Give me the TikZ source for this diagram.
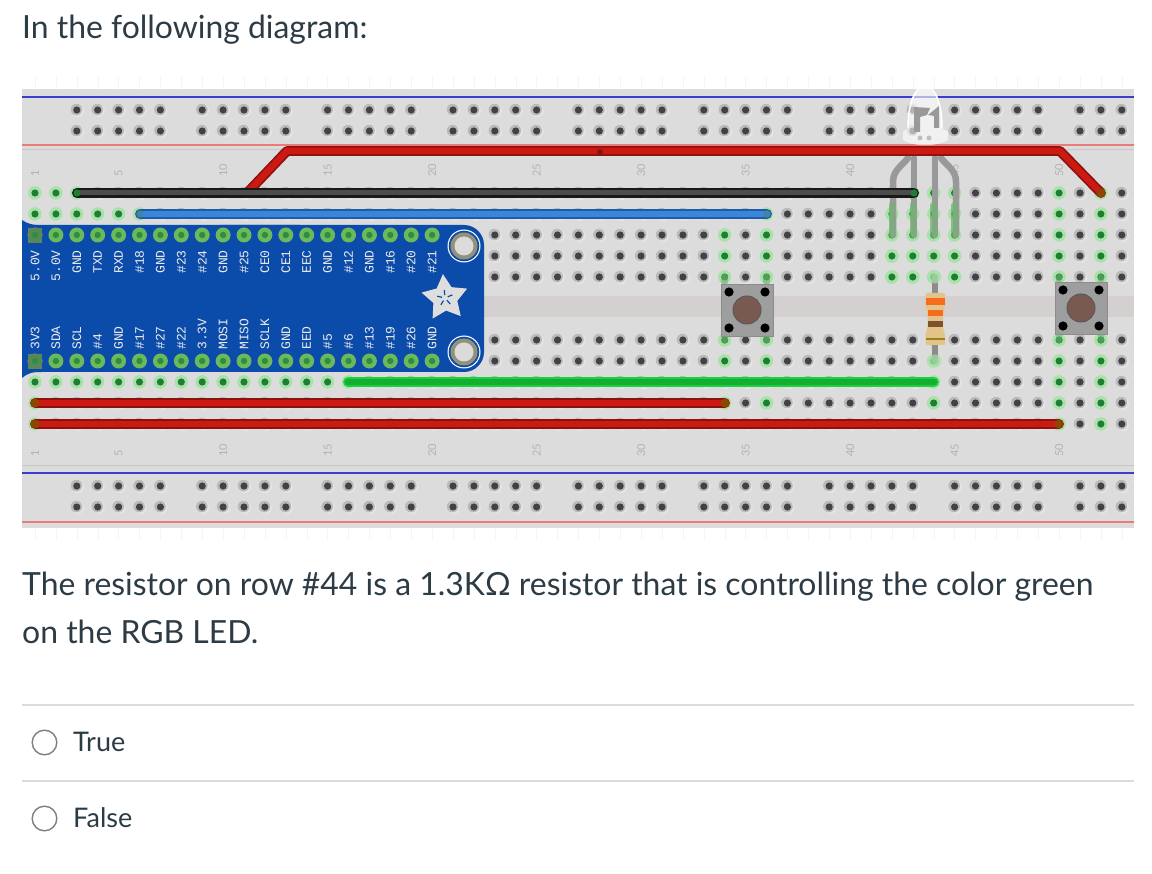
\documentclass[tikz,border=0pt]{standalone}
\usepackage{fontspec}
\setmainfont{Lato}
\newfontfamily\pinfont{Liberation Mono}
\usetikzlibrary{shapes.geometric}
\definecolor{inktext}{HTML}{2D3B45}
\definecolor{boardgrey}{HTML}{DCDCDC}
\definecolor{groovegrey}{HTML}{D5D0D0}
\definecolor{holedark}{HTML}{424246}
\definecolor{holegreen}{HTML}{1F7D36}
\definecolor{halogreen}{HTML}{A9E2A9}
\definecolor{pcbblue}{HTML}{0B4BAA}
\definecolor{pinring}{HTML}{6CB85C}
\definecolor{pincore}{HTML}{2B8F3F}
\definecolor{railblue}{HTML}{3D3DCB}
\definecolor{railred}{HTML}{EA7B7B}
\definecolor{legbrown}{HTML}{7A5A50}
\definecolor{wirered}{HTML}{CC1A12}
\definecolor{wirereddark}{HTML}{8C1210}
\definecolor{wireblue}{HTML}{3A86DC}
\definecolor{wirebluedark}{HTML}{1F5BA6}
\definecolor{wiregreen}{HTML}{14AE30}
\definecolor{wiregreenlight}{HTML}{1CD040}
\definecolor{bodytan}{HTML}{E2C488}
\definecolor{bandorange}{HTML}{F86A1C}
\tikzset{
    questiontext/.style={anchor=base west,inner sep=0,text=inktext,font=\fontsize{31.9}{38}\selectfont},
    answertext/.style={anchor=base west,inner sep=0,text=inktext,font=\fontsize{27}{32}\selectfont},
    radiobutton/.style={draw=black!50,line width=1.4pt,fill=white},
    rowrule/.style={draw=black!14,line width=2pt},
    pinlabel/.style={inner sep=0,rotate=90,text=white!92!black,font=\pinfont\fontsize{13}{13}\selectfont},
    boardnumber/.style={inner sep=0,rotate=90,anchor=west,text=black!30,font=\fontsize{11}{11}\selectfont},
    redwire/.style={draw=wirereddark,double=wirered,line width=1.7pt,double distance=6.5pt,line cap=round,line join=round},
    blackwire/.style={draw=black!90,double=black!70,line width=2.5pt,double distance=5pt,line cap=round},
    bluewire/.style={draw=wirebluedark,double=wireblue,line width=1.7pt,double distance=6.5pt,line cap=round},
    greenwire/.style={draw=wiregreenlight,double=wiregreen,line width=1.7pt,double distance=6.5pt,line cap=round},
    ledleg/.style={draw=black!40,line width=6.5pt,line cap=round},
    greenlead/.style={draw=green!45!black!55,line width=6.5pt,line cap=round},
    buttonbody/.style={fill=black!38,draw=black!45,line width=.5pt},
    buttoncap/.style={fill=legbrown,draw=black!65,line width=1pt}
}
% one hole of the breadboard, plain or connected
\newcommand{\greyhole}[2]{
    \fill[white!90!black] ({colx(#1)+.8},{#2+.8}) circle (6.3);
    \fill[black!27] ({colx(#1)-.4},{#2-.4}) circle (5.8);
    \fill[holedark] ({colx(#1)},{#2}) circle (3.6);
}
\newcommand{\greenhole}[2]{
    \fill[halogreen] ({colx(#1)},{#2}) circle (6.8);
    \fill[holegreen] ({colx(#1)},{#2}) circle (3.6);
}
\begin{document}
\begin{tikzpicture}[x=1pt,y=-1pt,declare function={colx(\c)=35+(\c-1)*20.9;}]
    \useasboundingbox (0,0) rectangle (1152,874);
    \fill[white] (0,0) rectangle (1152,874);

    \node[questiontext] (title) at (22,38.5) {In the following diagram:};
    \node[questiontext] (line1) at (22,595.5) {The resistor on row \#44 is a 1.3KΩ resistor that is controlling the color green};
    \node[questiontext] (line2) at (22,643) {on the RGB LED.};

    % answers
    \draw[rowrule] (22,705) -- (1134,705);
    \draw[rowrule] (22,781) -- (1134,781);
    \draw[radiobutton] (44.5,742.5) circle (12.3);
    \draw[radiobutton] (44.5,818.5) circle (12.3);
    \node[answertext] (yes) at (73,751) {True};
    \node[answertext] (no) at (73,827) {False};

    % breadboard
    \foreach \c in {1,...,53} {
        \draw[black!4] ({colx(\c)},76) -- ({colx(\c)},89);
        \draw[black!4] ({colx(\c)},528) -- ({colx(\c)},540);
    }
    \fill[boardgrey] (22,89) rectangle (1134,528);
    \fill[groovegrey] (22,296) rectangle (1134,317);
    \draw[railblue,line width=1.3pt] (22,97) -- (1134,97);
    \draw[railred,line width=1.3pt] (22,145) -- (1134,145);
    \draw[black!22,line width=1pt] (22,150) -- (1134,150);
    \draw[black!22,line width=1pt] (22,466) -- (1134,466);
    \draw[railblue,line width=1.3pt] (22,473) -- (1134,473);
    \draw[railred,line width=1.3pt] (22,522) -- (1134,522);

    \foreach \c in {3,...,7,9,10,11,12,13,15,16,17,18,19,21,22,23,24,25,27,28,29,30,31,33,34,35,36,37,39,40,41,42,43,45,46,47,48,49,51,52,53}
        \foreach \r in {110,131,486,507} {\greyhole{\c}{\r}}
    \foreach \c in {1,...,53}
        \foreach \r in {193,214,235,256,277,340,361,382,403,424} {\greyhole{\c}{\r}}

    % connected holes
    \foreach \c/\r in {1/193,2/193,3/193,43/193,44/193,45/193,50/193,52/193,
        36/214,42/214,43/214,44/214,45/214,50/214,52/214,
        34/235,36/235,42/235,43/235,44/235,45/235,50/235,52/235,
        34/256,36/256,42/256,43/256,44/256,45/256,50/256,52/256,
        34/277,36/277,42/277,43/277,44/277,45/277,50/277,52/277,
        34/340,36/340,44/340,50/340,52/340,
        34/361,36/361,44/361,50/361,52/361,
        44/382,50/382,52/382,
        1/403,34/403,36/403,44/403,50/403,52/403,
        1/424,50/424,52/424} {\greenhole{\c}{\r}}
    \foreach \c in {1,...,6} {\greenhole{\c}{214}}
    \foreach \c in {1,...,16} {\greenhole{\c}{382}}

    \foreach \n in {1,5,10,15,20,25,30,35,40,45,50} {
        \node[boardnumber] (top\n) at ({colx(\n)},177) {\n};
        \node[boardnumber] (bot\n) at ({colx(\n)},457) {\n};
    }

    % feather board
    \fill[pcbblue,rounded corners=20pt] (200,225) -- (484,225) -- (484,372) -- (200,372) -- cycle;
    \fill[pcbblue] (300,225) -- (42,225) .. controls (32,225) and (28,224) .. (22,220) -- (22,378) .. controls (28,373) and (32,372) .. (42,372) -- (300,372) -- cycle;
    \foreach \c in {1,...,20} {
        \fill[pinring] ({colx(\c)},235) circle (7.5);
        \fill[pincore] ({colx(\c)},235) circle (3.2);
        \fill[pinring] ({colx(\c)},361) circle (7.5);
        \fill[pincore] ({colx(\c)},361) circle (3.2);
    }
    \fill[black!40!green!30!gray] (28,228) rectangle (42,243);
    \fill[pincore] (35,235) circle (3.2);
    \fill[black!40!green!30!gray] (28,354) rectangle (42,369);
    \fill[pincore] (35,361) circle (3.2);
    \foreach \lab [count=\i] in {5.0V,5.0V,GND,TXD,RXD,\#18,GND,\#23,\#24,GND,\#25,CE0,CE1,EEC,GND,\#12,GND,\#16,\#20,\#21}
        \node[pinlabel,anchor=east] (up\i) at ({colx(\i)},250) {\lab};
    \foreach \lab [count=\i] in {3V3,SDA,SCL,\#4,GND,\#17,\#27,\#22,3.3V,MOSI,MISO,SCLK,GND,EED,\#5,\#6,\#13,\#19,\#26,GND}
        \node[pinlabel,anchor=west] (low\i) at ({colx(\i)},350) {\lab};
    \foreach \y in {246,352} {
        \fill[white] (464,\y) circle (16.5);
        \fill[pcbblue] (464,\y) circle (15.3);
        \fill[black!45!yellow!30!gray] (464,\y) circle (13.5);
        \fill[black!14] (464,\y) circle (9.5);
    }
    \node[star,star points=5,star point ratio=1.9,minimum size=48pt,inner sep=0,fill=black!13,rotate=5] (flower) at (445,298) {};
    \foreach \a in {95,167,239,311,23}
        \draw[pcbblue,line width=1.2pt] ({445+3*cos(\a)},{298-3*sin(\a)}) -- ({445+8*cos(\a)},{298-8*sin(\a)});

    % rgb led
    \draw[ledleg] (893,235) -- (893,182) .. controls (893,170) and (902,166) .. (908,158);
    \draw[ledleg] (914,235) -- (914,158);
    \draw[ledleg] (935,235) -- (935,158);
    \draw[ledleg] (956,235) -- (956,182) .. controls (956,170) and (947,166) .. (941,158);
    \foreach \c in {42,43,44,45} {
        \draw[greenlead,opacity=.75] ({colx(\c)},205) -- ({colx(\c)},235);
        \greenhole{\c}{256}
        \greenhole{\c}{277}
    }
    \fill[white,opacity=.6] (908,128) .. controls (908,72) and (942,72) .. (942,128) -- (948,132) -- (948,140) .. controls (935,147) and (915,147) .. (903,140) -- (903,132) -- cycle;
    \draw[white,line width=1.5pt] (908,128) .. controls (908,72) and (942,72) .. (942,128);
    \fill[black!40] (914,107) -- (930,108) -- (927,115) -- (920,117) -- (920,132) -- (914,132) -- cycle;
    \fill[black!40] (939,106) -- (939,128) -- (934,128) -- (934,116) -- (928,115) -- cycle;
    \fill[black!25] (920,138) circle (2.5);
    \fill[black!25] (929,138) circle (2.5);

    % wires
    \draw[redwire] (247,193) -- (287,151) -- (1060,151) -- (1101,193);
    \fill[wirereddark] (600,152) circle (3);
    \fill[orange!55!black] (1101,193) circle (4.5);
    \draw[blackwire] (77,193) -- (914,193);
    \draw[bluewire] (140,214) -- (767,214);
    \draw[greenwire] (348,382) -- (934,382);
    \draw[redwire] (35,403) -- (725,403);
    \draw[redwire] (35,424) -- (1059,424);
    \fill[holegreen] (77,193) circle (3.6);
    \fill[holegreen] (914,193) circle (3.6);
    \fill[cyan!60!black] (140,214) circle (3.6);
    \fill[cyan!60!black] (767,214) circle (3.6);
    \foreach \x/\y in {35/403,35/424,725/403,1059/424}
        \fill[orange!55!black] (\x,\y) circle (4.5);

    % buttons
    \foreach \x/\c/\y in {747/34/310,1081/50/308} {
        \draw[greenlead,opacity=.6] ({colx(\c)},277) -- ({colx(\c)},{\y-28});
        \draw[greenlead,opacity=.6] ({colx(\c+2)},277) -- ({colx(\c+2)},{\y-28});
        \draw[greenlead,opacity=.6] ({colx(\c)},340) -- ({colx(\c)},{\y+28});
        \draw[greenlead,opacity=.6] ({colx(\c+2)},340) -- ({colx(\c+2)},{\y+28});
        \fill[buttonbody] ({\x-26},{\y-26}) rectangle ({\x+26},{\y+26});
        \foreach \dx in {-18,18}
            \foreach \dy in {-18,18}
                \fill[black] ({\x+\dx},{\y+\dy}) circle (4.6);
        \fill[buttoncap] (\x,\y) circle (14);
    }

    % resistor
    \draw[ledleg,draw=black!45] (935,277) -- (935,361);
    \fill[halogreen,opacity=.7] (935,277) circle (6.5);
    \fill[halogreen,opacity=.7] (935,361) circle (6.5);
    \fill[bodytan,rounded corners=2pt] (925.5,293) -- (945,293) -- (945,306) -- (943,312) -- (943,328) -- (945,334) -- (945,345) -- (925.5,345) -- (925.5,334) -- (927.5,328) -- (927.5,312) -- (925.5,306) -- cycle;
    \fill[bandorange] (925.5,298) rectangle (945,305);
    \fill[bandorange] (927.5,310) rectangle (943,316);
    \fill[brown!65!black] (927.5,321) rectangle (943,327);
    \fill[brown!50!olive] (925.5,338) rectangle (945,340);
\end{tikzpicture}
\end{document}
